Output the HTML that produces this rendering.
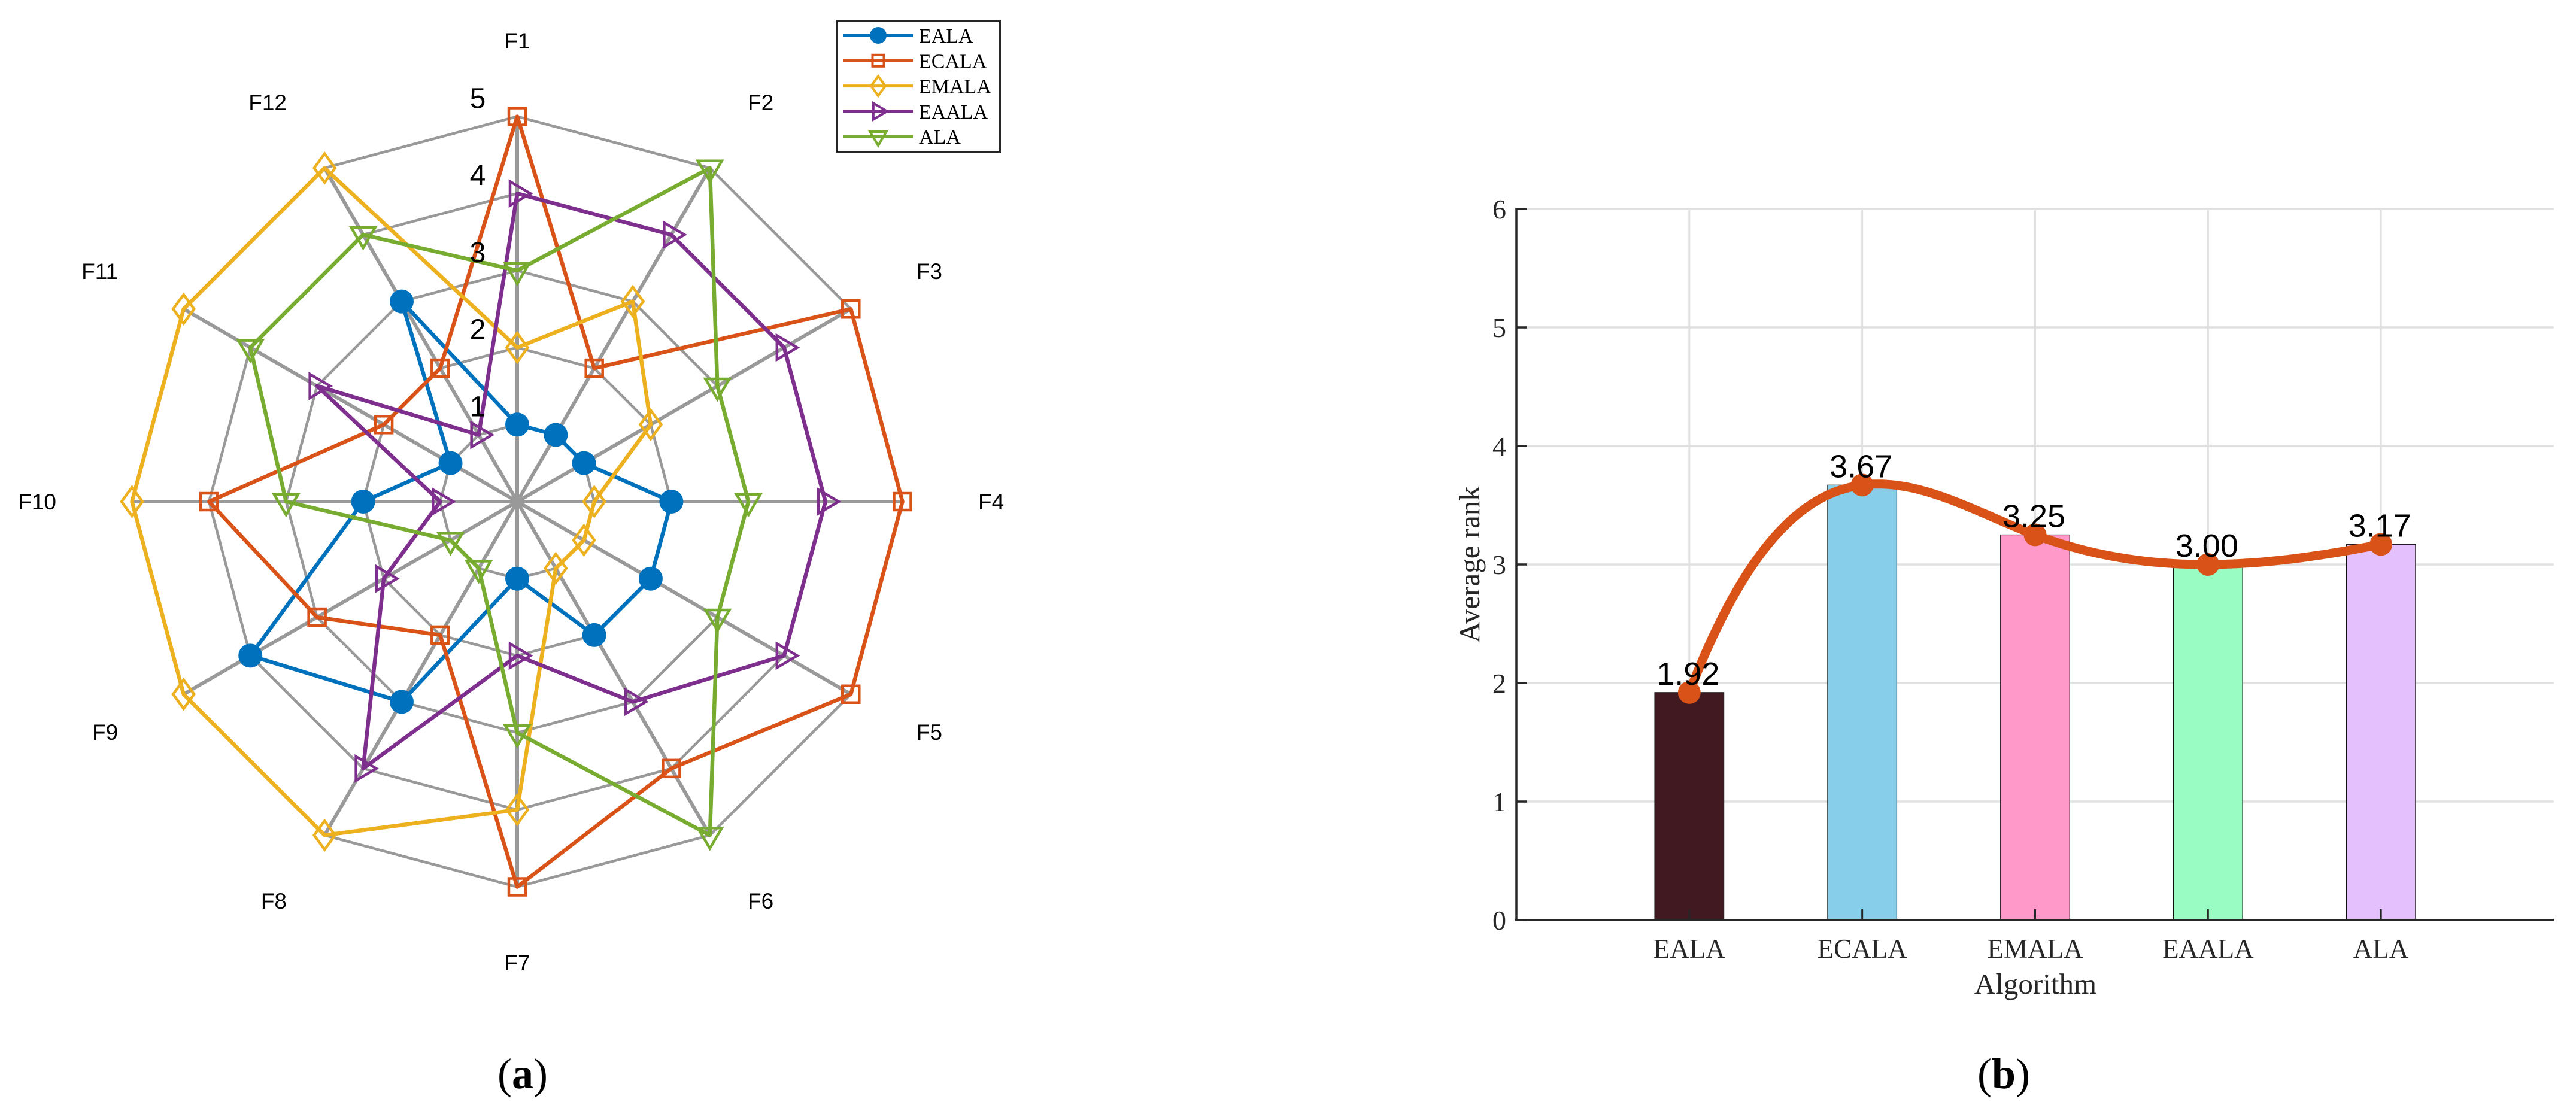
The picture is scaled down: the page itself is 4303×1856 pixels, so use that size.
<!DOCTYPE html>
<html lang="en">
<head>
<meta charset="utf-8">
<title>Radar rank chart and average rank chart</title>
<style>
html,body{margin:0;padding:0;background:#fff;width:4303px;height:1856px;overflow:hidden}
svg{display:block}
.sans{font-family:"Liberation Sans",sans-serif}
.serif{font-family:"Liberation Serif",serif}
</style>
</head>
<body>
<svg id="figure" xmlns="http://www.w3.org/2000/svg" width="4303" height="1856" viewBox="0 0 4303 1856">
  <rect x="0" y="0" width="4303" height="1856" fill="#fff"/>
  <g id="radar">
    <g id="radar-grid"></g>
    <g id="radar-series"></g>
    <g id="radar-labels"></g>
    <g id="legend"></g>
  </g>
  <g id="rank">
    <g id="rank-grid"></g>
    <g id="rank-bars"></g>
    <g id="rank-axes"></g>
    <g id="rank-line"></g>
    <g id="rank-text"></g>
    <text class="serif" font-size="49" fill="#262626" text-anchor="middle" transform="translate(2471 943) rotate(-90)">Average rank</text>
    <text class="serif" font-size="49" fill="#262626" text-anchor="middle" x="3400" y="1660">Algorithm</text>
  </g>
  <text class="serif" font-size="72" fill="#000" text-anchor="middle" x="873" y="1818">(<tspan font-weight="bold">a</tspan>)</text>
  <text class="serif" font-size="72" fill="#000" text-anchor="middle" x="3347" y="1818">(<tspan font-weight="bold">b</tspan>)</text>
</svg>
<script>
// ---- Radar data ----
const radarAxes = ['F1','F2','F3','F4','F5','F6','F7','F8','F9','F10','F11','F12'];
const radarTicks = [1,2,3,4,5];
const seriesNames = ['EALA','ECALA','EMALA','EAALA','ALA'];
const ealaRanks  = [1,1,1,2,2,2,1,3,4,2,1,3];
const ecalaRanks = [5,2,5,5,5,4,5,2,3,4,2,2];
const emalaRanks = [2,3,2,1,1,1,4,5,5,5,5,5];
const eaalaRanks = [4,4,4,4,4,3,2,4,2,1,3,1];
const alaRanks   = [3,5,3,3,3,5,3,1,1,3,4,4];

// ---- Bar chart data ----
const rankCategories = ['EALA','ECALA','EMALA','EAALA','ALA'];
const averageRanks = [1.92,3.67,3.25,3.00,3.17];
const yTickLabels = [0,1,2,3,4,5,6];

const NS = 'http://www.w3.org/2000/svg';
function make(tag, parent, attrs, text) {
  const el = document.createElementNS(NS, tag);
  for (const k in attrs) el.setAttribute(k, attrs[k]);
  if (text !== undefined) el.textContent = text;
  parent.appendChild(el);
  return el;
}
const $ = id => document.getElementById(id);

// ---- Radar scales ----
const cx = 864, cy = 838, unit = 128.7;
const radarX = (v, i) => cx + v * unit * Math.sin(i * 2 * Math.PI / radarAxes.length);
const radarY = (v, i) => cy - v * unit * Math.cos(i * 2 * Math.PI / radarAxes.length);

// grid polygons and spokes
radarTicks.forEach(t => {
  const pts = radarAxes.map((_, i) => radarX(t, i).toFixed(1) + ',' + radarY(t, i).toFixed(1)).join(' ');
  const ring = make('polygon', $('radar-grid'), {points: pts, fill: 'none', stroke: '#999', 'stroke-width': 4.5});
  
  
});
radarAxes.forEach((_, i) => {
  const spoke = make('line', $('radar-grid'), {x1: cx, y1: cy, x2: radarX(5, i), y2: radarY(5, i), stroke: '#999', 'stroke-width': 6});
  
  
});

// markers
function drawMarker(parent, kind, x, y, color, s, sw) {
  let m;
  if (kind === 'circle') {
    m = make('circle', parent, {cx: x, cy: y, r: 20 * s, fill: color});
  } else if (kind === 'square') {
    m = make('rect', parent, {x: x - 14 * s, y: y - 14 * s, width: 28 * s, height: 28 * s, fill: 'none', stroke: color, 'stroke-width': sw});
  } else {
    let p;
    if (kind === 'diamond') p = [[0, -24], [17.5, 0], [0, 24], [-17.5, 0]];
    if (kind === 'right') p = [[-12, -20], [22, 0], [-12, 20]];
    if (kind === 'down') p = [[-20, -12], [20, -12], [0, 22]];
    m = make('polygon', parent, {points: p.map(q => (x + q[0] * s) + ',' + (y + q[1] * s)).join(' '), fill: 'none', stroke: color, 'stroke-width': sw, 'stroke-linejoin': 'miter', 'stroke-miterlimit': 6});
  }
  return m;
}

const seriesColors = ['#0072BD','#D95319','#EDB120','#7E2F8E','#77AC30'];
const seriesKinds = ['circle','square','diamond','right','down'];
const seriesValues = [ealaRanks, ecalaRanks, emalaRanks, eaalaRanks, alaRanks];

seriesValues.forEach((vals, k) => {
  const g = make('g', $('radar-series'), {});
  
  
  const pts = vals.map((v, i) => radarX(v, i).toFixed(1) + ',' + radarY(v, i).toFixed(1)).join(' ');
  const line = make('polygon', g, {points: pts, fill: 'none', stroke: seriesColors[k], 'stroke-width': 6.5, 'stroke-linejoin': 'round'});
  
  
  vals.forEach((v, i) => {
    const mk = drawMarker(g, seriesKinds[k], radarX(v, i), radarY(v, i), seriesColors[k], 1, 4.5);
    
    
  });
});

// axis category labels: anchored away from the centre on a ring outside the grid
radarAxes.forEach((name, i) => {
  const a = i * 2 * Math.PI / radarAxes.length;
  const sn = Math.sin(a);
  const lx = cx + 770 * sn;
  const ly = cy - 770 * Math.cos(a);
  const anchor = Math.abs(sn) < 0.01 ? 'middle' : (sn > 0 ? 'start' : 'end');
  const t = make('text', $('radar-labels'), {x: lx, y: ly + 13, 'text-anchor': anchor, 'font-size': 37, fill: '#000', class: 'sans'}, name);
  
  
});
// radial tick labels
radarTicks.forEach(t => {
  const el = make('text', $('radar-labels'), {x: 798, y: radarY(t, 0) - 14, 'text-anchor': 'middle', 'font-size': 48, fill: '#000', class: 'sans'}, String(t));
  
  
});

// legend
const legendBox = make('rect', $('legend'), {x: 1397.5, y: 34.5, width: 273, height: 220, fill: '#fff', stroke: '#262626', 'stroke-width': 3});


seriesNames.forEach((name, k) => {
  const y = 59 + k * 42.3;
  const g = make('g', $('legend'), {});
  
  
  make('line', g, {x1: 1408, x2: 1525, y1: y, y2: y, stroke: seriesColors[k], 'stroke-width': 5});
  drawMarker(g, seriesKinds[k], 1467, y, seriesColors[k], seriesKinds[k] === 'circle' ? 0.7 : 0.68, 4);
  make('text', g, {x: 1535, y: y + 12, 'font-size': 34, fill: '#000', class: 'serif'}, name);
});

// ---- Bar chart scales ----
const plotL = 2533, plotR = 4266, plotB = 1537, plotT = 349;
const xScale = v => plotL + (v / 6) * (plotR - plotL);
const yScale = v => plotB - (v / 6) * (plotB - plotT);

yTickLabels.forEach(t => {
  if (t === 0) return;
  const gl = make('line', $('rank-grid'), {x1: plotL, x2: plotR, y1: yScale(t), y2: yScale(t), stroke: '#e0e0e0', 'stroke-width': 3.5});
  
  
});
rankCategories.forEach((_, i) => {
  const gl = make('line', $('rank-grid'), {x1: xScale(i + 1), x2: xScale(i + 1), y1: plotT, y2: plotB, stroke: '#e0e0e0', 'stroke-width': 3});
  
  
});

const barColors = ['#401921','#87CEEB','#FF99C9','#99FCC3','#E4C0FD'];
const barWidth = 0.4;
averageRanks.forEach((v, i) => {
  const x0 = xScale(i + 1 - barWidth / 2), x1 = xScale(i + 1 + barWidth / 2);
  const b = make('rect', $('rank-bars'), {x: x0, y: yScale(v), width: x1 - x0, height: plotB - yScale(v), fill: barColors[i], stroke: '#111', 'stroke-width': 1.2});
  
  
});

// axes
const yAxis = make('line', $('rank-axes'), {x1: plotL, x2: plotL, y1: plotT - 2, y2: plotB + 2, stroke: '#262626', 'stroke-width': 3.5});


const xAxis = make('line', $('rank-axes'), {x1: plotL - 2, x2: plotR, y1: plotB, y2: plotB, stroke: '#262626', 'stroke-width': 3.5});


yTickLabels.forEach(t => {
  const tk = make('line', $('rank-axes'), {x1: plotL, x2: plotL + 18, y1: yScale(t), y2: yScale(t), stroke: '#262626', 'stroke-width': 3.5});
  
  
  const lb = make('text', $('rank-axes'), {x: 2516, y: yScale(t) + 16, 'text-anchor': 'end', 'font-size': 46, fill: '#262626', class: 'serif'}, String(t));
  
  
});
rankCategories.forEach((name, i) => {
  const tk = make('line', $('rank-axes'), {x1: xScale(i + 1), x2: xScale(i + 1), y1: plotB, y2: plotB - 18, stroke: '#262626', 'stroke-width': 3});
  
  
  const lb = make('text', $('rank-axes'), {x: xScale(i + 1), y: 1600, 'text-anchor': 'middle', 'font-size': 45, fill: '#262626', class: 'serif'}, name);
  
  
});

// not-a-knot cubic spline through the averages
function splineCurvatures(y) {
  const n = y.length;
  const A = [], b = [];
  for (let i = 0; i < n; i++) { A.push(new Array(n).fill(0)); b.push(0); }
  A[0][0] = 1; A[0][1] = -2; A[0][2] = 1;
  A[n-1][n-3] = 1; A[n-1][n-2] = -2; A[n-1][n-1] = 1;
  for (let i = 1; i < n - 1; i++) {
    A[i][i-1] = 1; A[i][i] = 4; A[i][i+1] = 1;
    b[i] = 6 * (y[i-1] - 2 * y[i] + y[i+1]);
  }
  for (let c = 0; c < n; c++) {
    let p = c;
    for (let r = c + 1; r < n; r++) if (Math.abs(A[r][c]) > Math.abs(A[p][c])) p = r;
    [A[c], A[p]] = [A[p], A[c]]; [b[c], b[p]] = [b[p], b[c]];
    for (let r = c + 1; r < n; r++) {
      const f = A[r][c] / A[c][c];
      for (let k = c; k < n; k++) A[r][k] -= f * A[c][k];
      b[r] -= f * b[c];
    }
  }
  const m = new Array(n).fill(0);
  for (let r = n - 1; r >= 0; r--) {
    let s = b[r];
    for (let k = r + 1; k < n; k++) s -= A[r][k] * m[k];
    m[r] = s / A[r][r];
  }
  return m;
}
const curv = splineCurvatures(averageRanks);
function splineAt(t) {
  const i = Math.min(Math.floor(t), averageRanks.length - 2);
  const u = t - i, w = 1 - u;
  return curv[i] * w*w*w / 6 + curv[i+1] * u*u*u / 6 +
    (averageRanks[i] - curv[i] / 6) * w + (averageRanks[i+1] - curv[i+1] / 6) * u;
}
let curvePts = [];
const last = averageRanks.length - 1;
for (let s = 0; s <= 240; s++) {
  const t = s / 240 * last;
  curvePts.push(xScale(t + 1).toFixed(1) + ',' + yScale(splineAt(t)).toFixed(1));
}
const curve = make('polyline', $('rank-line'), {points: curvePts.join(' '), fill: 'none', stroke: '#D95319', 'stroke-width': 15, 'stroke-linejoin': 'round'});


averageRanks.forEach((v, i) => {
  const d = make('circle', $('rank-line'), {cx: xScale(i + 1), cy: yScale(v), r: 19, fill: '#D95319'});
  
  
  const t = make('text', $('rank-text'), {x: xScale(i + 1) - 2, y: yScale(v) - 13, 'text-anchor': 'middle', 'font-size': 54, fill: '#000', class: 'sans'}, v.toFixed(2));
  
  
});
</script>
</body>
</html>
